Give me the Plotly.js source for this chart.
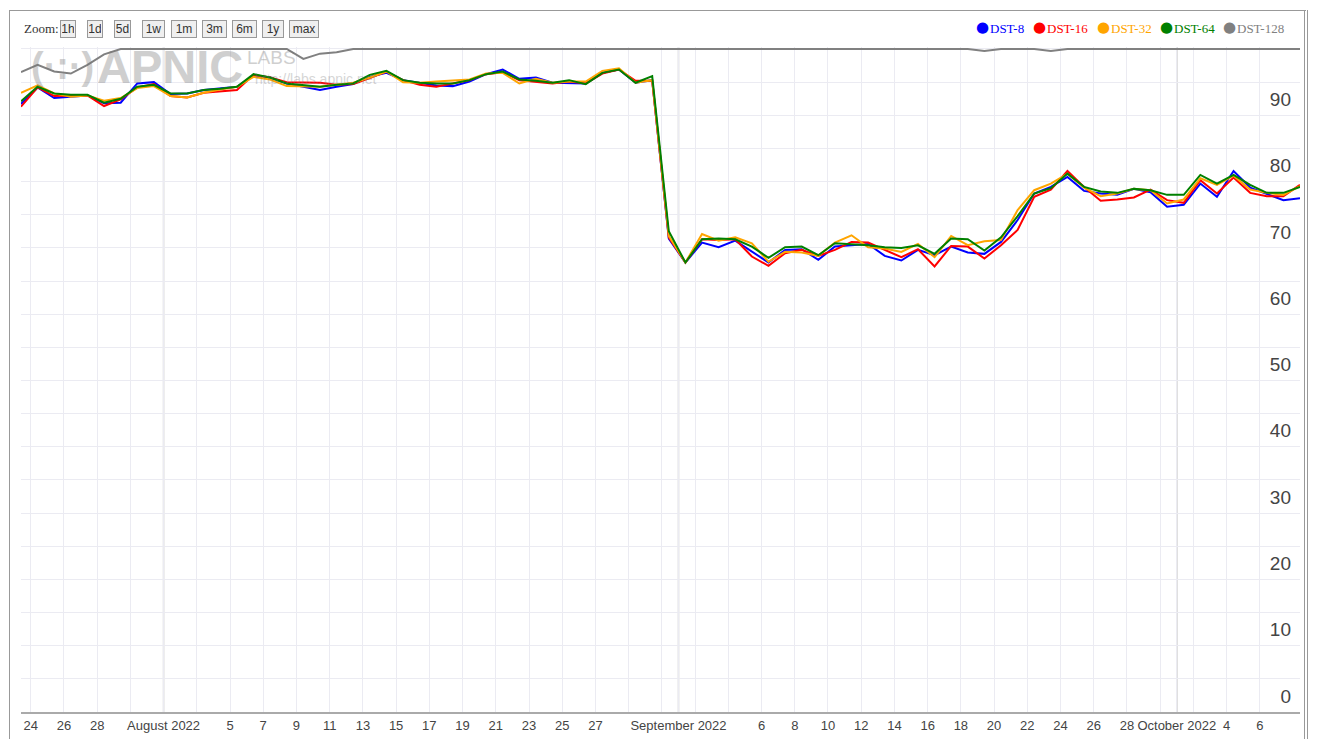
<!DOCTYPE html>
<html>
<head>
<meta charset="utf-8">
<script src="https://cdn.plot.ly/plotly-3.0.1.min.js"></script>
<style>
  body { margin: 0; background: #fff; }
  #frame {
    position: absolute;
    left: 9px;
    top: 10px;
    width: 1294px;
    height: 728px;
    border-top: 1px solid #999;
    border-left: 1px solid #999;
    border-right: 4px double #999;
  }
</style>
</head>
<body>
<div id="frame"><div id="graph"></div></div>
<script>
// Daily DST test results, one sample per day (local time 10:00).

const dates = [
  "2022-07-23", "2022-07-24", "2022-07-25", "2022-07-26", "2022-07-27", "2022-07-28", "2022-07-29",
  "2022-07-30", "2022-07-31", "2022-08-01", "2022-08-02", "2022-08-03", "2022-08-04", "2022-08-05",
  "2022-08-06", "2022-08-07", "2022-08-08", "2022-08-09", "2022-08-10", "2022-08-11", "2022-08-12",
  "2022-08-13", "2022-08-14", "2022-08-15", "2022-08-16", "2022-08-17", "2022-08-18", "2022-08-19",
  "2022-08-20", "2022-08-21", "2022-08-22", "2022-08-23", "2022-08-24", "2022-08-25", "2022-08-26",
  "2022-08-27", "2022-08-28", "2022-08-29", "2022-08-30", "2022-08-31", "2022-09-01", "2022-09-02",
  "2022-09-03", "2022-09-04", "2022-09-05", "2022-09-06", "2022-09-07", "2022-09-08", "2022-09-09",
  "2022-09-10", "2022-09-11", "2022-09-12", "2022-09-13", "2022-09-14", "2022-09-15", "2022-09-16",
  "2022-09-17", "2022-09-18", "2022-09-19", "2022-09-20", "2022-09-21", "2022-09-22", "2022-09-23",
  "2022-09-24", "2022-09-25", "2022-09-26", "2022-09-27", "2022-09-28", "2022-09-29", "2022-09-30",
  "2022-10-01", "2022-10-02", "2022-10-03", "2022-10-04", "2022-10-05", "2022-10-06", "2022-10-07",
  "2022-10-08",
];
const sampleTime = " 10:00";

const dst8 = [
  91.7, 94.2, 92.6, 92.8, 93.0, 91.8, 91.9, 94.8, 95.0, 93.2, 93.3, 93.8, 94.1, 94.3,
  96.0, 95.7, 94.8, 94.3, 93.8, 94.3, 94.7, 95.8, 96.4, 95.3, 94.9, 94.5, 94.4, 95.1,
  96.2, 96.9, 95.5, 95.7, 94.9, 94.8, 94.8, 96.4, 96.9, 94.9, 95.3, 71.4, 67.8, 70.8,
  70.1, 71.1, 69.4, 67.8, 69.7, 69.8, 68.2, 70.2, 70.4, 70.6, 68.8, 68.1, 69.7, 68.9,
  70.2, 69.3, 69.1, 70.9, 74.2, 78.2, 79.2, 80.7, 78.6, 78.2, 78.0, 78.9, 78.4, 76.2,
  76.5, 79.7, 77.7, 81.6, 79.1, 78.2, 77.2, 77.5,
];
const dst16 = [
  91.3, 94.2, 92.9, 93.0, 93.0, 91.4, 92.4, 94.2, 94.7, 92.9, 92.7, 93.4, 93.6, 93.8,
  96.1, 95.7, 95.0, 94.9, 94.9, 94.6, 94.7, 95.6, 96.6, 95.3, 94.6, 94.3, 94.8, 95.3,
  96.2, 96.5, 95.3, 95.1, 94.8, 95.1, 94.8, 96.3, 96.9, 95.2, 95.2, 71.6, 67.8, 71.3,
  71.2, 71.3, 68.7, 67.3, 69.2, 69.7, 68.8, 69.7, 70.9, 70.8, 69.7, 68.6, 69.8, 67.2,
  70.3, 70.2, 68.4, 70.4, 72.7, 77.7, 78.8, 81.6, 79.2, 77.1, 77.3, 77.6, 78.8, 77.2,
  76.8, 80.2, 78.2, 80.6, 78.3, 77.8, 77.8, 79.5,
];
const dst32 = [
  93.4, 94.5, 93.3, 92.8, 93.0, 92.2, 92.6, 94.1, 94.4, 92.9, 92.7, 93.4, 93.9, 94.3,
  95.8, 95.4, 94.4, 94.4, 94.3, 94.6, 94.9, 95.7, 96.6, 95.0, 94.9, 95.1, 95.2, 95.4,
  96.3, 96.4, 94.8, 95.5, 94.9, 95.1, 95.1, 96.7, 97.1, 94.9, 95.3, 71.8, 67.8, 72.1,
  71.1, 71.6, 70.7, 67.9, 69.4, 69.3, 68.8, 70.8, 71.9, 70.1, 69.9, 69.4, 70.6, 68.6,
  71.8, 70.4, 71.0, 71.2, 75.7, 78.7, 79.7, 81.2, 79.1, 77.8, 78.2, 78.9, 78.7, 76.7,
  77.3, 80.5, 79.5, 80.9, 78.8, 78.3, 78.0, 79.3,
];
const dst64 = [
  92.1, 94.3, 93.3, 93.1, 93.1, 91.9, 92.5, 94.3, 94.6, 93.3, 93.3, 93.8, 94.0, 94.3,
  96.2, 95.7, 94.8, 94.6, 94.3, 94.6, 94.8, 96.1, 96.7, 95.3, 94.9, 94.8, 94.8, 95.3,
  96.2, 96.6, 95.4, 95.2, 94.9, 95.3, 94.7, 96.4, 96.9, 94.9, 95.9, 72.5, 67.8, 71.3,
  71.4, 71.3, 70.2, 68.5, 70.1, 70.2, 68.9, 70.7, 70.6, 70.4, 70.1, 70.0, 70.4, 69.1,
  71.4, 71.3, 69.6, 71.6, 74.8, 78.2, 79.0, 81.2, 79.2, 78.5, 78.3, 78.9, 78.7, 78.0,
  78.0, 81.0, 79.7, 81.0, 79.5, 78.3, 78.3, 79.2,
];
const dst128 = [
  96.5, 97.6, 96.6, 96.3, 97.6, 99.2, 100, 100, 100, 100, 100, 100, 100, 100,
  100, 100, 100, 98.5, 99.3, 99.5, 100, 100, 100, 100, 100, 100, 100, 100,
  100, 100, 100, 100, 100, 100, 100, 100, 100, 100, 100, 100, 100, 100,
  100, 100, 100, 100, 100, 100, 100, 100, 100, 100, 100, 100, 100, 100,
  100, 100, 99.7, 100, 100, 100, 99.7, 100, 100, 100, 100, 100, 100, 100,
  100, 100, 100, 100, 100, 100, 100, 100,
];

const seriesNames = ["DST-8", "DST-16", "DST-32", "DST-64", "DST-128"];
const seriesColors = ["#0000ff", "#ff0000", "#ffa500", "#008000", "#808080"];
const seriesValues = [dst8, dst16, dst32, dst64, dst128];

const tickDates = [
  "2022-07-24", "2022-07-26", "2022-07-28", "2022-08-01", "2022-08-05", "2022-08-07",
  "2022-08-09", "2022-08-11", "2022-08-13", "2022-08-15", "2022-08-17", "2022-08-19",
  "2022-08-21", "2022-08-23", "2022-08-25", "2022-08-27", "2022-09-01", "2022-09-06",
  "2022-09-08", "2022-09-10", "2022-09-12", "2022-09-14", "2022-09-16", "2022-09-18",
  "2022-09-20", "2022-09-22", "2022-09-24", "2022-09-26", "2022-09-28", "2022-10-01",
  "2022-10-04", "2022-10-06",
];
const tickLabels = [
  "24", "26", "28", "August 2022", "5", "7", "9", "11", "13", "15", "17", "19", "21",
  "23", "25", "27", "September 2022", "6", "8", "10", "12", "14", "16", "18", "20",
  "22", "24", "26", "28", "October 2022", "4", "6",
];
const monthStarts = ["2022-08-01", "2022-09-01", "2022-10-01"];
const yTicks = [0, 10, 20, 30, 40, 50, 60, 70, 80, 90];
const zoomLabels = ["1h", "1d", "5d", "1w", "1m", "3m", "6m", "1y", "max"];

// page pixel -> paper coordinates (plot area spans x 21..1300, y 47..712)
const PL = 21, PR = 1300, PT = 47, PB = 712;
const px = (x) => (x - PL) / (PR - PL);
const py = (y) => (PB - y) / (PB - PT);

const xs = dates.map((d) => d + sampleTime);

// draw grey first so green ends up on top
const order = [4, 0, 1, 2, 3];
const traces = order.map((i) => ({
  x: xs,
  y: seriesValues[i],
  name: seriesNames[i],
  type: "scatter",
  mode: "lines",
  line: { color: seriesColors[i], width: 2 },
  showlegend: false,
  hoverinfo: "x+y+name",
}));

const annotations = [];

// watermark
const sans = "Liberation Sans, Arial, sans-serif";
const serif = "Liberation Serif, Times New Roman, serif";
const mark = { color: "#777", family: sans };
annotations.push(
  { text: "(·:·)", x: px(62), y: py(66), xanchor: "center", font: { ...mark, size: 38, weight: "bold" }, opacity: 0.35 },
  { text: "APNIC", x: px(170), y: py(66), xanchor: "center", font: { ...mark, size: 47, weight: "bold" }, opacity: 0.35 },
  { text: "LABS", x: px(271), y: py(57), xanchor: "center", font: { ...mark, size: 19 }, opacity: 0.35 },
  { text: "http://labs.apnic.net", x: px(316), y: py(79), xanchor: "center", font: { ...mark, size: 14 }, opacity: 0.3 }
);

// zoom bar
annotations.push({
  text: "Zoom:",
  x: px(22),
  y: py(28),
  xanchor: "left",
  font: { family: serif, size: 13, color: "#333" },
});
const btnLeft = [60, 87, 114, 142, 171, 202, 232, 262, 289];
const btnRight = [76, 103, 131, 165, 197, 227, 257, 284, 319];
zoomLabels.forEach((label, i) => {
  annotations.push({
    text: label,
    x: px(btnLeft[i]),
    y: py(28.5),
    xanchor: "left",
    width: btnRight[i] - btnLeft[i] - 4,
    height: 14,
    borderpad: 1,
    borderwidth: 1,
    bordercolor: "#999",
    bgcolor: "#efefef",
    font: { family: sans, size: 12, color: "#333" },
  });
});

// legend row, top right: dot + coloured name per series
const legendLeft = [975, 1032, 1096, 1159, 1222];
seriesNames.forEach((n, i) => {
  annotations.push(
    {
      text: "●",
      x: px(legendLeft[i] - 1),
      y: py(27.5),
      xanchor: "left",
      font: { family: "DejaVu Sans, sans-serif", size: 15, color: seriesColors[i] },
    },
    {
      text: n,
      x: px(legendLeft[i] + 13),
      y: py(28),
      xanchor: "left",
      font: { family: serif, size: 13, color: seriesColors[i] },
    }
  );
});

const shapes = monthStarts.map((d) => ({
  type: "line",
  xref: "x",
  yref: "paper",
  x0: d,
  x1: d,
  y0: 0,
  y1: 1,
  layer: "between",
  line: { color: "#c8c8c8", width: 1.5 },
}));

const gridColor = "#ebebf2";

const layout = {
  width: 1294,
  height: 728,
  margin: { l: 11, r: 4, t: 36, b: 27, pad: 0 },
  paper_bgcolor: "#fff",
  plot_bgcolor: "#fff",
  showlegend: false,
  hovermode: "closest",
  xaxis: {
    type: "date",
    range: [xs[0], xs[xs.length - 1]],
    tickmode: "array",
    tickvals: tickDates,
    ticktext: tickLabels,
    ticks: "",
    showgrid: true,
    gridcolor: gridColor,
    gridwidth: 1,
    minor: {
      tick0: "2022-07-24",
      dtick: 2 * 86400000,
      showgrid: true,
      gridcolor: gridColor,
      gridwidth: 1,
      ticks: "",
    },
    showline: true,
    linecolor: "#aaa",
    linewidth: 2,
    zeroline: false,
    automargin: false,
    tickfont: { family: sans, size: 13, color: "#444" },
  },
  yaxis: {
    range: [0, 100.3],
    side: "right",
    tickmode: "array",
    tickvals: yTicks,
    ticktext: yTicks.map(String),
    ticks: "",
    ticklabelposition: "inside",
    ticklabelshift: -16,
    ticklabelstandoff: 6,
    showgrid: true,
    gridcolor: gridColor,
    minor: { tick0: 0, dtick: 5, showgrid: true, gridcolor: gridColor, ticks: "" },
    showline: false,
    zeroline: false,
    automargin: false,
    tickfont: { family: sans, size: 19, color: "#444" },
  },
  annotations: annotations.map((a) => ({
    xref: "paper",
    yref: "paper",
    yanchor: "middle",
    showarrow: false,
    ...a,
  })),
  shapes: shapes,
};

Plotly.newPlot("graph", traces, layout, { displayModeBar: false, responsive: false });
</script>
</body>
</html>
